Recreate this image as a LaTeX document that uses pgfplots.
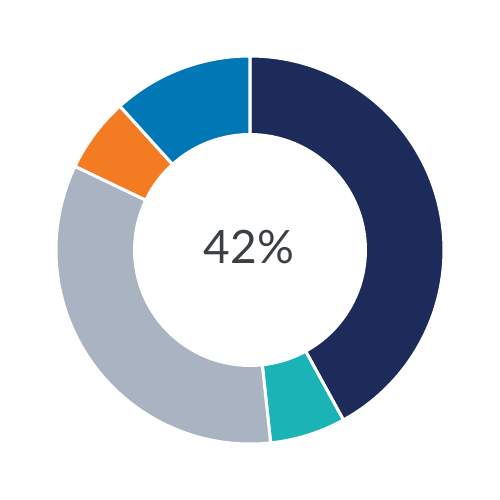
\documentclass[border=0pt]{standalone}
\usepackage{pgfplots}
\pgfplotsset{compat=1.18}
\usepackage{fontspec}
\setmainfont{Lato}

\definecolor{navy}{HTML}{1C2B5A}
\definecolor{teal}{HTML}{1BB4B6}
\definecolor{slate}{HTML}{A9B3C1}
\definecolor{orng}{HTML}{F37B21}
\definecolor{blue}{HTML}{0177B5}
\definecolor{txt}{HTML}{3B4045}

% one ring segment: start %, end %, colour (clockwise from 12 o'clock)
\newcommand\sector[3]{%
  \pgfmathsetmacro\sa{90-3.6*#2}%
  \pgfmathsetmacro\sb{90-3.6*#1}%
  \addplot[fill=#3, draw=white, line width=1.5pt, domain=\sa:\sb,
    samples=80, variable=\t]
    ({194*cos(\t)},{194*sin(\t)}) -- (axis cs:0,0) -- cycle;
}

\begin{document}
\begin{tikzpicture}
\begin{axis}[
    width=250pt, height=250pt,
    scale only axis,
    xmin=-250, xmax=250, ymin=-250, ymax=250,
    hide axis,
    clip=false
]
\path (rel axis cs:0,0) rectangle (rel axis cs:1,1);
% shares: 42, 6.3, 33.8, 6.2, 11.7
\sector{0}{42}{navy}
\sector{42}{48.3}{teal}
\sector{48.3}{82.1}{slate}
\sector{82.1}{88.3}{orng}
\sector{88.3}{100}{blue}
\addplot[fill=white, draw=none, domain=0:360, samples=120, variable=\t]
  ({117*cos(\t)},{117*sin(\t)}) -- cycle;
\node[text=txt, font=\fontsize{23}{28}\selectfont] at (axis cs:-1,3) {42\%};
\end{axis}
\end{tikzpicture}
\end{document}
